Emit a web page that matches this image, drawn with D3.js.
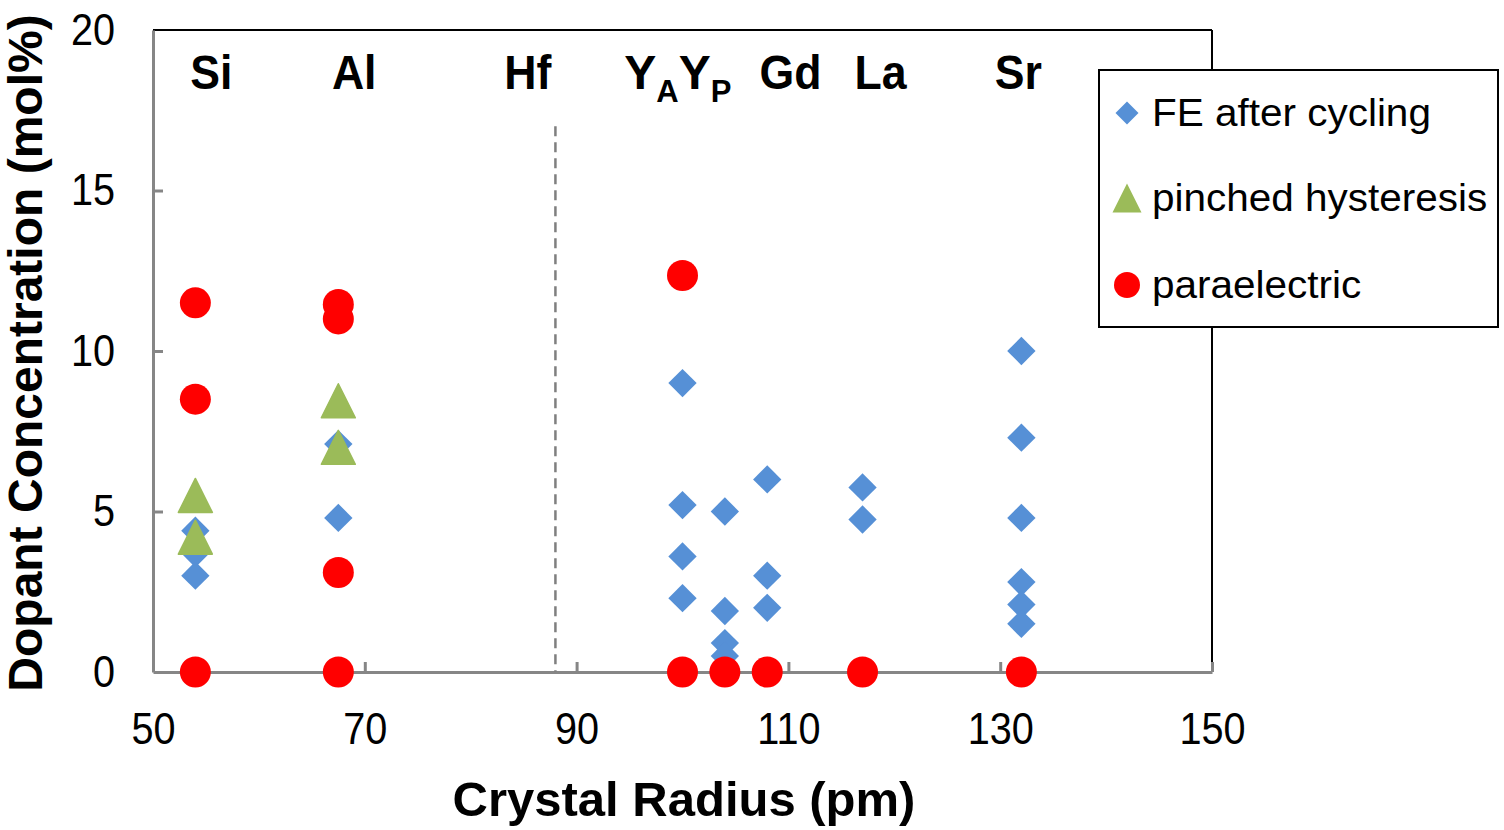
<!DOCTYPE html>
<html>
<head>
<meta charset="utf-8">
<script src="https://cdn.jsdelivr.net/npm/d3@7"></script>
<style>
  html, body { margin: 0; padding: 0; background: #fff; }
  svg { display: block; font-family: "Liberation Sans", Arial, sans-serif; }
</style>
</head>
<body>
<svg id="chart" width="1504" height="830"></svg>
<script>
// ---- Data (crystal radius in pm, dopant concentration in mol%) ----
const feX = [54, 54, 54, 67.5, 67.5, 100, 100, 100, 100, 104, 104, 104, 104, 108, 108, 108, 117, 117, 132, 132, 132, 132, 132, 132];
const feY = [4.4, 3.7, 3.0, 7.1, 4.8, 9.0, 5.2, 3.6, 2.3, 5.0, 1.9, 0.9, 0.5, 6.0, 3.0, 2.0, 5.75, 4.75, 10.0, 7.3, 4.8, 2.8, 2.1, 1.5];
const pinchX = [54, 54, 67.5, 67.5];
const pinchY = [5.5, 4.2, 8.45, 7.0];
const paraX = [54, 54, 54, 67.5, 67.5, 67.5, 67.5, 100, 100, 104, 108, 117, 132];
const paraY = [11.5, 8.5, 0, 11.45, 11.0, 3.1, 0, 12.35, 0, 0, 0, 0, 0];
const xTicks = [50, 70, 90, 110, 130, 150];
const yTicks = [0, 5, 10, 15, 20];
const elemNames = ["Si", "Al", "Hf", "Gd", "La", "Sr"];
const elemPos = [55.5, 69, 85.4, 110.2, 118.7, 131.7];
const hfBoundaryX = 88;
const hfBoundaryTop = 17;
const seriesNames = ["FE after cycling", "pinched hysteresis", "paraelectric"];

const svg = d3.select("#chart");
const L = 153, R = 1212, T = 30, B = 672;
const x = d3.scaleLinear().domain([50, 150]).range([L, R]);
const y = d3.scaleLinear().domain([0, 20]).range([B, T]);

const AXIS = "#868686";
const BLUE = "#5690d6", GREEN = "#9bbb59", RED = "#ff0000";

function squeeze(sel, f) {
  sel.each(function () {
    const w = this.getComputedTextLength();
    d3.select(this).attr("textLength", w * f).attr("lengthAdjust", "spacingAndGlyphs");
  });
}

// plot frame (top & right black)
svg.append("line").attr("x1", L).attr("x2", R).attr("y1", T).attr("y2", T).attr("stroke", "#000").attr("stroke-width", 2);
svg.append("line").attr("x1", R).attr("x2", R).attr("y1", T).attr("y2", B).attr("stroke", "#000").attr("stroke-width", 2);

// axes
const xAxis = d3.axisBottom(x).tickValues(xTicks).tickSize(-10).tickPadding(41).tickSizeOuter(0);
const gx = svg.append("g").attr("transform", `translate(0,${B})`).call(xAxis);
gx.select(".domain").attr("stroke", AXIS).attr("stroke-width", 3);
gx.selectAll(".tick line").attr("stroke", AXIS).attr("stroke-width", 3);
gx.selectAll(".tick").filter(d => d === 50).select("line").remove();
gx.selectAll(".tick text").attr("font-size", 44).attr("fill", "#000").attr("font-family", "Liberation Sans, Arial, sans-serif").attr("dy", "0.71em");
squeeze(gx.selectAll(".tick text"), 0.9);

const yAxis = d3.axisLeft(y).tickValues(yTicks).tickSize(-10).tickPadding(38).tickSizeOuter(0);
const gy = svg.append("g").attr("transform", `translate(${L},0)`).call(yAxis);
gy.select(".domain").attr("stroke", AXIS).attr("stroke-width", 3);
gy.selectAll(".tick line").attr("stroke", AXIS).attr("stroke-width", 3);
gy.selectAll(".tick").filter(d => d === 0 || d === 20).select("line").remove();
gy.selectAll(".tick text").attr("font-size", 44).attr("fill", "#000").attr("font-family", "Liberation Sans, Arial, sans-serif");
squeeze(gy.selectAll(".tick text"), 0.9);

// dashed boundary
svg.append("line")
  .attr("x1", x(hfBoundaryX)).attr("x2", x(hfBoundaryX))
  .attr("y1", y(hfBoundaryTop)).attr("y2", y(0))
  .attr("stroke", "#7f7f7f").attr("stroke-width", 2.5).attr("stroke-dasharray", "10,6");

// element labels
const elemG = svg.append("g").attr("font-weight", "bold").attr("font-size", 48).attr("fill", "#000");
elemG.selectAll("text.el").data(elemNames).join("text")
  .attr("class", "el")
  .attr("x", (d, i) => x(elemPos[i])).attr("y", 89)
  .attr("text-anchor", "middle").text(d => d);
squeeze(elemG.selectAll("text.el"), 0.93);
const ya = elemG.append("text").attr("x", x(94.5)).attr("y", 89);
ya.append("tspan").text("Y");
ya.append("tspan").attr("font-size", 31).attr("dy", 13).text("A");
ya.append("tspan").attr("dy", -13).text("Y");
ya.append("tspan").attr("font-size", 31).attr("dy", 13).text("P");

// markers
const diamond = d3.symbol().type(d3.symbolDiamond2).size(2 * 16 * 16);
function triPath(h) { return `M0,${-h / 2}L${h / 2},${h / 2}L${-h / 2},${h / 2}Z`; }

svg.append("g").selectAll("path").data(feX.map((v, i) => [v, feY[i]])).join("path")
  .attr("transform", d => `translate(${x(d[0])},${y(d[1])})`)
  .attr("d", diamond).attr("fill", BLUE);

svg.append("g").selectAll("path").data(pinchX.map((v, i) => [v, pinchY[i]])).join("path")
  .attr("transform", d => `translate(${x(d[0])},${y(d[1])})`)
  .attr("d", triPath(34)).attr("fill", GREEN).attr("stroke", GREEN).attr("stroke-width", 1.5).attr("stroke-linejoin", "round");

svg.append("g").selectAll("circle").data(paraX.map((v, i) => [v, paraY[i]])).join("circle")
  .attr("cx", d => x(d[0])).attr("cy", d => y(d[1])).attr("r", 15.5).attr("fill", RED);

// axis titles
svg.append("text").attr("x", 684).attr("y", 816).attr("text-anchor", "middle")
  .attr("font-weight", "bold").attr("font-size", 49).text("Crystal Radius (pm)");
svg.append("text").attr("transform", "translate(42,353) rotate(-90)").attr("text-anchor", "middle")
  .attr("font-weight", "bold").attr("font-size", 48).text("Dopant Concentration (mol%)");

// legend
const lg = svg.append("g");
lg.append("rect").attr("x", 1099).attr("y", 70).attr("width", 399).attr("height", 257)
  .attr("fill", "#fff").attr("stroke", "#000").attr("stroke-width", 2);
const rows = [113, 198, 285];
const mk = lg.append("g");
mk.append("path").attr("transform", `translate(1127,${rows[0]})`).attr("d", d3.symbol().type(d3.symbolDiamond2).size(2 * 13 * 13)).attr("fill", BLUE);
mk.append("path").attr("transform", `translate(1127,${rows[1]})`).attr("d", triPath(29)).attr("fill", GREEN);
mk.append("circle").attr("cx", 1127).attr("cy", rows[2]).attr("r", 13).attr("fill", RED);
const lt = lg.selectAll("text.lt").data(seriesNames).join("text").attr("class", "lt")
  .attr("x", 1152).attr("y", (d, i) => rows[i]).attr("dy", "0.35em")
  .attr("font-size", 38).attr("fill", "#000").text(d => d);
squeeze(lt, 1.065);
</script>
</body>
</html>
